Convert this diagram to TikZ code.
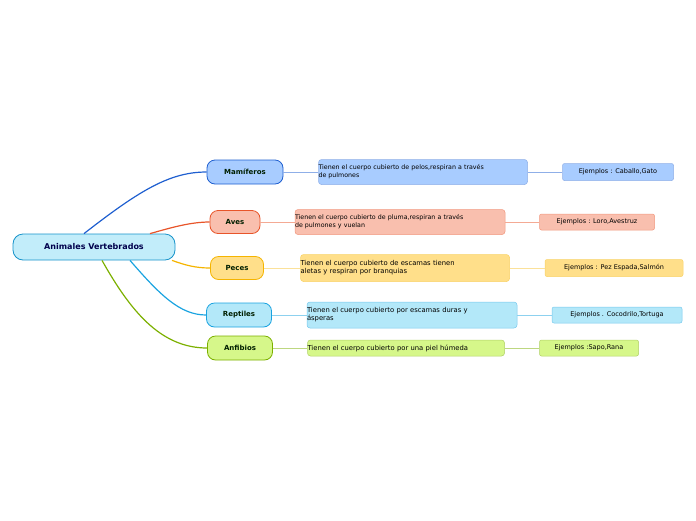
\documentclass[tikz,border=0pt]{standalone}
\usepackage{fontspec}
\setmainfont{DejaVu Sans}
\begin{document}
\begin{tikzpicture}[x=1pt,y=-1pt,
 main/.style={draw,rounded corners=8pt,line width=0.8pt,font=\fontsize{7}{8}\selectfont\bfseries,text=black!70!green!40!black,inner sep=0pt},
 desc/.style={draw,rounded corners=3pt,line width=0.5pt,font=\fontsize{6.3}{8}\selectfont,align=left,inner sep=0pt,text width=#1},
 ex/.style={draw,rounded corners=2pt,line width=0.5pt,font=\fontsize{6.5}{8}\selectfont,inner sep=0pt}]
\useasboundingbox (0,0) rectangle (696,520);
\definecolor{mf}{HTML}{A8CCFF}\definecolor{mb}{HTML}{1F5FD0}
\definecolor{af}{HTML}{F9BFAE}\definecolor{ab}{HTML}{E8552A}
\definecolor{pf}{HTML}{FFDF8A}\definecolor{pb}{HTML}{F5B400}
\definecolor{rf}{HTML}{B3E8F9}\definecolor{rb}{HTML}{1AA3E0}
\definecolor{nf}{HTML}{D6F78A}\definecolor{nb}{HTML}{7CB000}
\node[main,fill=rf!80!white,draw=rb!90!black,minimum width=162pt,minimum height=26pt,rounded corners=10pt,font=\fontsize{8}{9}\selectfont\bfseries,text=blue!30!black] (root) at (94,247) {Animales Vertebrados};
\node[main,fill=mf,draw=mb,minimum width=76pt,minimum height=24pt] (m) at (245,172) {Mamíferos};
\node[main,fill=af,draw=ab,minimum width=50pt,minimum height=23pt] (a) at (235,222) {Aves};
\node[main,fill=pf,draw=pb,minimum width=53pt,minimum height=23pt] (p) at (237,268) {Peces};
\node[main,fill=rf,draw=rb,minimum width=65pt,minimum height=24pt] (r) at (239,315) {Reptiles};
\node[main,fill=nf,draw=nb,minimum width=65pt,minimum height=24pt] (n) at (240,348) {Anfibios};
\node[desc=209pt,fill=mf,draw=mb!50!white,minimum height=25pt] (md) at (423,172) {Tienen el cuerpo cubierto de pelos,respiran  a través\\de pulmones};
\node[desc=210pt,fill=af,draw=ab!60!white,minimum height=25pt] (ad) at (400,222) {Tienen el cuerpo cubierto de pluma,respiran a través\\de pulmones y vuelan};
\node[desc=209pt,fill=pf,draw=pb!60!white,minimum height=27pt,font=\fontsize{6.8}{8}\selectfont] (pd) at (405,268) {Tienen el cuerpo cubierto de escamas tienen\\aletas y respiran por branquias};
\node[desc=210pt,fill=rf,draw=rb!60!white,minimum height=26pt,font=\fontsize{6.8}{8}\selectfont] (rd) at (412,315) {Tienen el cuerpo cubierto por escamas duras y\\ásperas};
\node[desc=197pt,fill=nf,draw=nb!60!white,minimum height=16pt,font=\fontsize{6.8}{8}\selectfont] (nd) at (406,348) {Tienen el cuerpo cubierto por una piel húmeda};
\node[ex,fill=mf,draw=mb!50!white,minimum width=111pt,minimum height=17pt] (me) at (618,172) {Ejemplos : Caballo,Gato};
\node[ex,fill=af,draw=ab!60!white,minimum width=115pt,minimum height=16pt] (ae) at (597,222) {Ejemplos : Loro,Avestruz};
\node[ex,fill=pf,draw=pb!60!white,minimum width=138pt,minimum height=17pt] (pe) at (614,268) {Ejemplos : Pez Espada,Salmón};
\node[ex,fill=rf,draw=rb!60!white,minimum width=130pt,minimum height=16pt] (re) at (617,315) {Ejemplos . Cocodrilo,Tortuga};
\node[ex,fill=nf,draw=nb!60!white,minimum width=99pt,minimum height=16pt] (ne) at (589,348) {Ejemplos :Sapo,Rana};
\begin{scope}[line width=1.2pt]
\draw[mb] ([xshift=-10pt]root.north) .. controls (140,190) and (170,172) .. (m.west);
\draw[ab] ([xshift=56pt]root.north) .. controls (170,228) and (190,222) .. (a.west);
\draw[pb] ([xshift=78pt]root.south) .. controls (185,265) and (195,268) .. (p.west);
\draw[rb] ([xshift=36pt]root.south) .. controls (160,295) and (180,315) .. (r.west);
\draw[nb] ([xshift=8pt]root.south) .. controls (130,310) and (160,348) .. (n.west);
\end{scope}
\begin{scope}[line width=0.6pt]
\draw[mb!50!white] (m) -- (md); \draw[mb!50!white] (md) -- (me);
\draw[ab!50!white] (a) -- (ad); \draw[ab!50!white] (ad) -- (ae);
\draw[pb!40!white] (p) -- (pd); \draw[pb!40!white] (pd) -- (pe);
\draw[rb!50!white] (r) -- (rd); \draw[rb!50!white] (rd) -- (re);
\draw[nb!50!white] (n) -- (nd); \draw[nb!50!white] (nd) -- (ne);
\end{scope}
\end{tikzpicture}
\end{document}
